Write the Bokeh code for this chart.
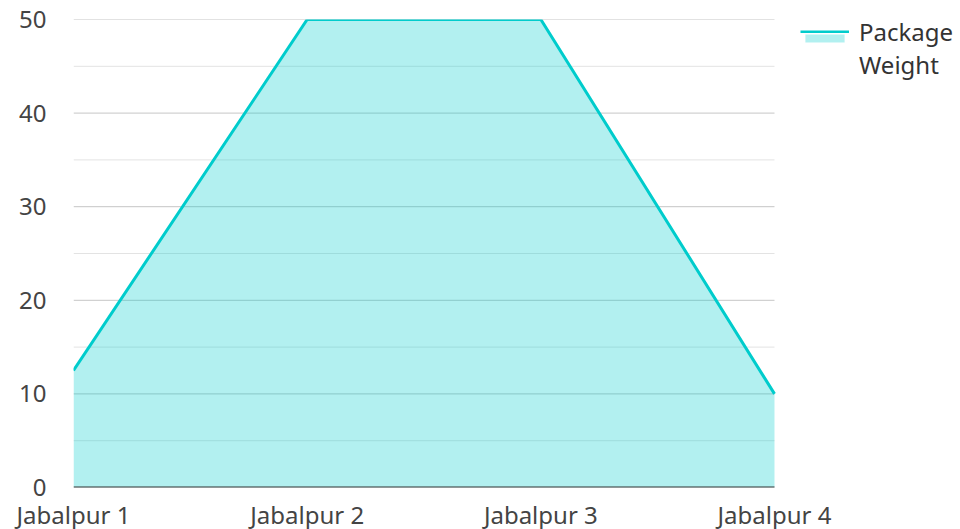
from bokeh.plotting import figure
from bokeh.models import FixedTicker, Range1d, Legend, LegendItem, ColumnDataSource
from bokeh.embed import file_html
from bokeh.resources import INLINE

categories = ["Jabalpur 1", "Jabalpur 2", "Jabalpur 3", "Jabalpur 4"]
package_weight = [12.5, 50, 50, 10]
y_ticks = [0, 10, 20, 30, 40, 50]
y_minor_ticks = [5, 15, 25, 35, 45]
series_name = "Package\nWeight"

x_idx = list(range(len(categories)))
src = ColumnDataSource(dict(x=x_idx, y=package_weight, base=[0] * len(x_idx)))

FONT = "Noto Sans"
LINE_COLOR = "#00CCCC"
LEFT, TOP = 73, 19
PLOT_W, FH = 701, 468          # width of the data area, frame height
FW = 960 - LEFT                # frame includes legend area on the right
x_end = (len(categories) - 1) * FW / PLOT_W

p = figure(width=960, height=529, output_backend="svg", toolbar_location=None,
           x_range=Range1d(0, x_end), y_range=Range1d(0, 50),
           frame_width=FW, frame_height=FH,
           min_border_left=LEFT, min_border_right=0, min_border_top=TOP, min_border_bottom=42)
p.outline_line_color = None
p.background_fill_color = "white"

x0, x1 = x_idx[0], x_idx[-1]

# grid lines limited to the data area (drawn beneath the translucent area)
p.segment(x0=[x0] * len(y_minor_ticks), x1=[x1] * len(y_minor_ticks),
          y0=y_minor_ticks, y1=y_minor_ticks, line_color="#e3e3e3", line_width=1)
p.segment(x0=[x0] * (len(y_ticks) - 1), x1=[x1] * (len(y_ticks) - 1),
          y0=y_ticks[1:], y1=y_ticks[1:], line_color="#c6c6c6", line_width=1)
area = p.varea(x="x", y1="base", y2="y", source=src, fill_color=LINE_COLOR, fill_alpha=0.3)
line = p.line(x="x", y="y", source=src, line_color=LINE_COLOR, line_width=3)
# x axis baseline
p.segment(x0=[x0], x1=[x1], y0=[0], y1=[0], line_color="#333333", line_width=2)
dummy = p.line(x=[], y=[], line_alpha=0)

# axes
p.xaxis.ticker = FixedTicker(ticks=x_idx)
p.xaxis.major_label_overrides = {i: c for i, c in zip(x_idx, categories)}
p.xaxis.major_tick_line_color = None
p.xaxis.minor_tick_line_color = None
p.xaxis.axis_line_color = None
p.xaxis.major_label_text_font = FONT
p.xaxis.major_label_text_font_size = "24px"
p.xaxis.major_label_text_color = "#444444"
p.xaxis.major_label_standoff = 4

p.yaxis.ticker = FixedTicker(ticks=y_ticks, minor_ticks=y_minor_ticks)
p.yaxis.axis_line_color = None
p.yaxis.major_tick_line_color = None
p.yaxis.minor_tick_line_color = None
p.yaxis.major_label_text_font = FONT
p.yaxis.major_label_text_font_size = "24px"
p.yaxis.major_label_text_color = "#444444"
p.yaxis.major_label_standoff = 21

p.xgrid.grid_line_color = None
p.ygrid.grid_line_color = None

FB = TOP + FH  # frame bottom in screen px
GX = 800 - LEFT

def mk_legend(item, top, height, **kw):
    base = dict(items=[item], border_line_color=None, background_fill_alpha=0,
                padding=0, margin=0, spacing=0, orientation="vertical",
                location=(GX, FB - top - height))
    base.update(kw)
    return Legend(**base)

leg_text = mk_legend(LegendItem(label=series_name, renderers=[dummy]), 15, 66,
                     label_text_font=FONT, label_text_font_size="24px",
                     label_text_color="#333333", label_text_line_height=1.35,
                     glyph_width=49, glyph_height=10, label_standoff=10, label_height=10)
leg_fill = mk_legend(LegendItem(label=" ", renderers=[area]), 33, 10,
                     label_text_font_size="1px", glyph_width=49, glyph_height=10,
                     label_standoff=0, label_height=1, label_width=1)
leg_line = mk_legend(LegendItem(label=" ", renderers=[line]), 30, 3,
                     label_text_font_size="1px", glyph_width=49, glyph_height=3,
                     label_standoff=0, label_height=1, label_width=1)
for lg in (leg_fill, leg_line, leg_text):
    p.add_layout(lg)

open("out.html", "w").write(file_html(p, INLINE))
